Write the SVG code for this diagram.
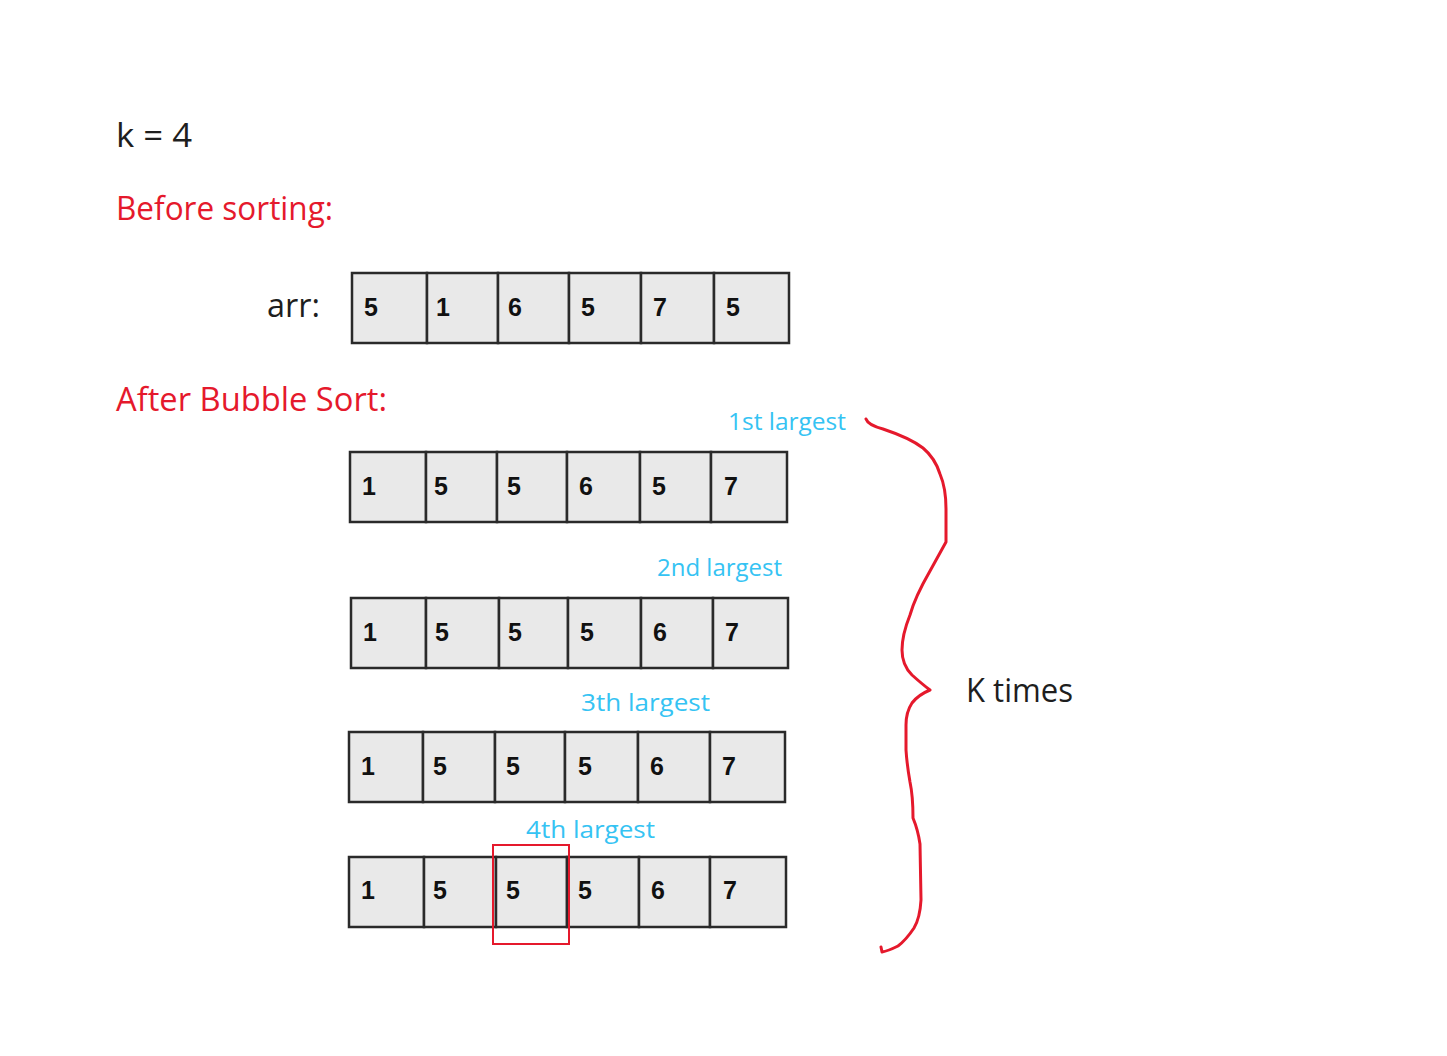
<svg xmlns="http://www.w3.org/2000/svg" width="1447" height="1056" viewBox="0 0 1447 1056">
<style>
.hand{font-family:"Open Sans","Noto Sans","Liberation Sans",sans-serif;font-weight:400;}
.blk{fill:#1e1e1e;}
.red{fill:#e5192c;}
.blue{fill:#35c3f3;}
.cell{fill:#e9e9e9;stroke:#2a2a2a;stroke-width:2.5;}
.num{font-family:"Liberation Sans",Arial,sans-serif;font-weight:bold;font-size:25px;fill:#111;}
</style>
<rect width="1447" height="1056" fill="#ffffff"/>
<g id="title">
<text class="hand blk" x="116" y="147" font-size="32" textLength="76" lengthAdjust="spacingAndGlyphs">k = 4</text>
<text class="hand red" x="116" y="220" font-size="32" textLength="217" lengthAdjust="spacingAndGlyphs">Before sorting:</text>
<text class="hand red" x="116" y="411" font-size="32" textLength="271" lengthAdjust="spacingAndGlyphs">After Bubble Sort:</text>
<text class="hand blk" x="267" y="317" font-size="32" textLength="53" lengthAdjust="spacingAndGlyphs">arr:</text>
</g>
<g id="arr0">
<rect class="cell" x="352" y="273" width="75" height="70"/>
<rect class="cell" x="427" y="273" width="71" height="70"/>
<rect class="cell" x="498" y="273" width="71" height="70"/>
<rect class="cell" x="569" y="273" width="72" height="70"/>
<rect class="cell" x="641" y="273" width="73" height="70"/>
<rect class="cell" x="714" y="273" width="75" height="70"/>
<text class="num" x="364" y="316">5</text>
<text class="num" x="436" y="316">1</text>
<text class="num" x="508" y="316">6</text>
<text class="num" x="581" y="316">5</text>
<text class="num" x="653" y="316">7</text>
<text class="num" x="726" y="316">5</text>
</g>
<g id="arr1">
<rect class="cell" x="350" y="452" width="76" height="70"/>
<rect class="cell" x="426" y="452" width="71" height="70"/>
<rect class="cell" x="497" y="452" width="70" height="70"/>
<rect class="cell" x="567" y="452" width="73" height="70"/>
<rect class="cell" x="640" y="452" width="71" height="70"/>
<rect class="cell" x="711" y="452" width="76" height="70"/>
<text class="num" x="362" y="495">1</text>
<text class="num" x="434" y="495">5</text>
<text class="num" x="507" y="495">5</text>
<text class="num" x="579" y="495">6</text>
<text class="num" x="652" y="495">5</text>
<text class="num" x="724" y="495">7</text>
<text class="hand blue" x="728" y="430" font-size="24" textLength="118" lengthAdjust="spacingAndGlyphs">1st largest</text>
</g>
<g id="arr2">
<rect class="cell" x="351" y="598" width="75" height="70"/>
<rect class="cell" x="426" y="598" width="73" height="70"/>
<rect class="cell" x="499" y="598" width="69" height="70"/>
<rect class="cell" x="568" y="598" width="73" height="70"/>
<rect class="cell" x="641" y="598" width="72" height="70"/>
<rect class="cell" x="713" y="598" width="75" height="70"/>
<text class="num" x="363" y="641">1</text>
<text class="num" x="435" y="641">5</text>
<text class="num" x="508" y="641">5</text>
<text class="num" x="580" y="641">5</text>
<text class="num" x="653" y="641">6</text>
<text class="num" x="725" y="641">7</text>
<text class="hand blue" x="657" y="576" font-size="24" textLength="125" lengthAdjust="spacingAndGlyphs">2nd largest</text>
</g>
<g id="arr3">
<rect class="cell" x="349" y="732" width="74" height="70"/>
<rect class="cell" x="423" y="732" width="72" height="70"/>
<rect class="cell" x="495" y="732" width="70" height="70"/>
<rect class="cell" x="565" y="732" width="73" height="70"/>
<rect class="cell" x="638" y="732" width="72" height="70"/>
<rect class="cell" x="710" y="732" width="75" height="70"/>
<text class="num" x="361" y="775">1</text>
<text class="num" x="433" y="775">5</text>
<text class="num" x="506" y="775">5</text>
<text class="num" x="578" y="775">5</text>
<text class="num" x="650" y="775">6</text>
<text class="num" x="722" y="775">7</text>
<text class="hand blue" x="581" y="711" font-size="24" textLength="129" lengthAdjust="spacingAndGlyphs">3th largest</text>
</g>
<g id="arr4">
<rect class="cell" x="349" y="857" width="75" height="70"/>
<rect class="cell" x="424" y="857" width="72" height="70"/>
<rect class="cell" x="496" y="857" width="71" height="70"/>
<rect class="cell" x="567" y="857" width="72" height="70"/>
<rect class="cell" x="639" y="857" width="71" height="70"/>
<rect class="cell" x="710" y="857" width="76" height="70"/>
<text class="num" x="361" y="899">1</text>
<text class="num" x="433" y="899">5</text>
<text class="num" x="506" y="899">5</text>
<text class="num" x="578" y="899">5</text>
<text class="num" x="651" y="899">6</text>
<text class="num" x="723" y="899">7</text>
<text class="hand blue" x="526" y="838" font-size="24" textLength="129" lengthAdjust="spacingAndGlyphs">4th largest</text>
<rect x="493" y="845" width="76" height="99" fill="none" stroke="#e5192c" stroke-width="2"/>
</g>
<g id="connectors">
<path d="M866 419 Q868 425 883 429 Q910 438 923 448 Q935 458 940 474 Q946 488 946 509 L946 542 L930 571 Q915 597 910 615 Q902 635 902 650 Q902 665 912 675 Q922 684 930 690 Q918 695 912 703 Q906 712 906 725 L906 750 Q907 765 910 782 Q913 796 913 818 Q918 830 920 844 L921 900 Q920 918 914 928 Q906 940 898 946 Q888 951 882 952 M882 952 L881 947" fill="none" stroke="#e5192c" stroke-width="3" stroke-linecap="round" stroke-linejoin="round"/>
</g>
<g id="ktimes">
<text class="hand blk" x="966" y="702" font-size="32" textLength="107" lengthAdjust="spacingAndGlyphs">K times</text>
</g>
</svg>
